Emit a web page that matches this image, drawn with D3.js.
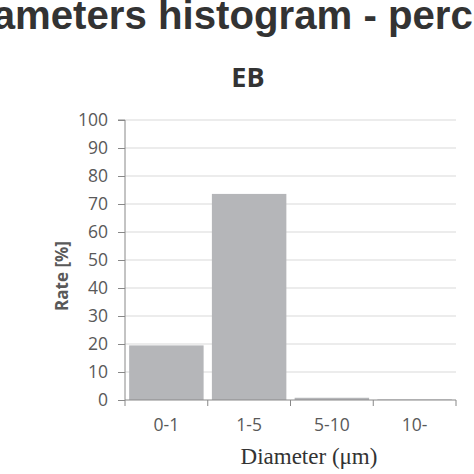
<!DOCTYPE html>
<html>
<head>
<meta charset="utf-8">
<script src="https://cdn.jsdelivr.net/npm/d3@7"></script>
<style>
  body { margin: 0; background: #fff; }
  svg { display: block; }
</style>
</head>
<body>
<div id="chart"></div>
<script>
// data
const categories = ["0-1", "1-5", "5-10", "10-"];
const rates = [19.5, 73.6, 0.8, 0.2];
const yTicks = [0, 10, 20, 30, 40, 50, 60, 70, 80, 90, 100];

const width = 474;
const height = 474;
const margin = {left: 125, right: 18, top: 120, bottom: 74};

const svg = d3.select("#chart")
	.append("svg")
	.attr("width", width)
	.attr("height", height);

const sx = d3.scaleBand()
	.domain(categories)
	.range([margin.left, width - margin.right])
	.paddingInner(0.1)
	.paddingOuter(0.05);

const sy = d3.scaleLinear()
	.domain([0, 100])
	.range([height - margin.bottom, margin.top]);

// big cropped title, sized so "meters ... perc" fills the width
const bigTitle = svg.append("text")
	.attr("y", 29)
	.attr("font-family", "Liberation Sans, Arial, sans-serif")
	.attr("font-weight", "bold")
	.attr("font-size", 35)
	.attr("fill", "#333")
	.text("Diameters histogram - percentage");
let n = bigTitle.node();
const span = n.getEndPositionOfChar(25).x - n.getStartPositionOfChar(3).x;
bigTitle.attr("font-size", 35 * 458 / span);
bigTitle.attr("x", 15 - n.getStartPositionOfChar(3).x);

svg.append("text")
	.attr("x", 248)
	.attr("y", 87)
	.attr("text-anchor", "middle")
	.attr("font-family", "Open Sans, sans-serif")
	.attr("font-weight", "bold")
	.attr("font-size", 27)
	.attr("fill", "#333")
	.text("EB");

// gridlines
svg.append("g")
	.selectAll("line")
	.data(yTicks.filter(d => d > 0))
	.enter()
	.append("line")
	.attr("x1", margin.left)
	.attr("x2", width - margin.right)
	.attr("y1", d => sy(d))
	.attr("y2", d => sy(d))
	.attr("stroke", "#d9d9d9")
	.attr("stroke-width", 1);

// bars
svg.append("g")
	.selectAll("rect")
	.data(rates)
	.enter()
	.append("rect")
	.attr("x", (d, i) => sx(categories[i]))
	.attr("y", d => sy(d))
	.attr("width", sx.bandwidth())
	.attr("height", d => sy(0) - sy(d))
	.attr("fill", "#b5b6b9");

// y axis
const yAxis = d3.axisLeft(sy)
	.tickValues(yTicks)
	.tickSize(7)
	.tickPadding(10);

const gy = svg.append("g")
	.attr("transform", `translate(${margin.left},0)`)
	.call(yAxis);
gy.selectAll("line, path").attr("stroke", "#888");
gy.select(".domain").attr("d", `M-7,${sy(100)}H0V${sy(0)}`);
gy.selectAll("text")
	.attr("font-family", "Open Sans, sans-serif")
	.attr("font-size", 17.5)
	.attr("fill", "#595959");

// x axis with boundary ticks
const gx = svg.append("g")
	.attr("transform", `translate(0,${sy(0)})`);
gx.append("line")
	.attr("x1", margin.left)
	.attr("x2", width - margin.right)
	.attr("stroke", "#888");
const bounds = categories.map(c => sx(c) - sx.step() * sx.paddingInner() / 2);
bounds.push(width - margin.right);
bounds[0] = margin.left;
gx.selectAll(".bt")
	.data(bounds)
	.enter()
	.append("line")
	.attr("class", "bt")
	.attr("x1", d => d)
	.attr("x2", d => d)
	.attr("y1", 0)
	.attr("y2", 6)
	.attr("stroke", "#888");
gx.selectAll(".xl")
	.data(categories)
	.enter()
	.append("text")
	.attr("class", "xl")
	.attr("x", d => sx(d) + sx.bandwidth() / 2)
	.attr("y", 31)
	.attr("text-anchor", "middle")
	.attr("font-family", "Open Sans, sans-serif")
	.attr("font-size", 17.5)
	.attr("fill", "#595959")
	.text(d => d);

// axis titles
svg.append("text")
	.attr("transform", `translate(68,276) rotate(-90)`)
	.attr("text-anchor", "middle")
	.attr("font-family", "Open Sans, sans-serif")
	.attr("font-weight", "bold")
	.attr("font-size", 17)
	.attr("fill", "#595959")
	.text("Rate [%]");

svg.append("text")
	.attr("x", 309)
	.attr("y", 464)
	.attr("text-anchor", "middle")
	.attr("font-family", "Liberation Serif, Times New Roman, serif")
	.attr("font-size", 23)
	.attr("fill", "#333")
	.text("Diameter (\u03bcm)");
</script>
</body>
</html>
